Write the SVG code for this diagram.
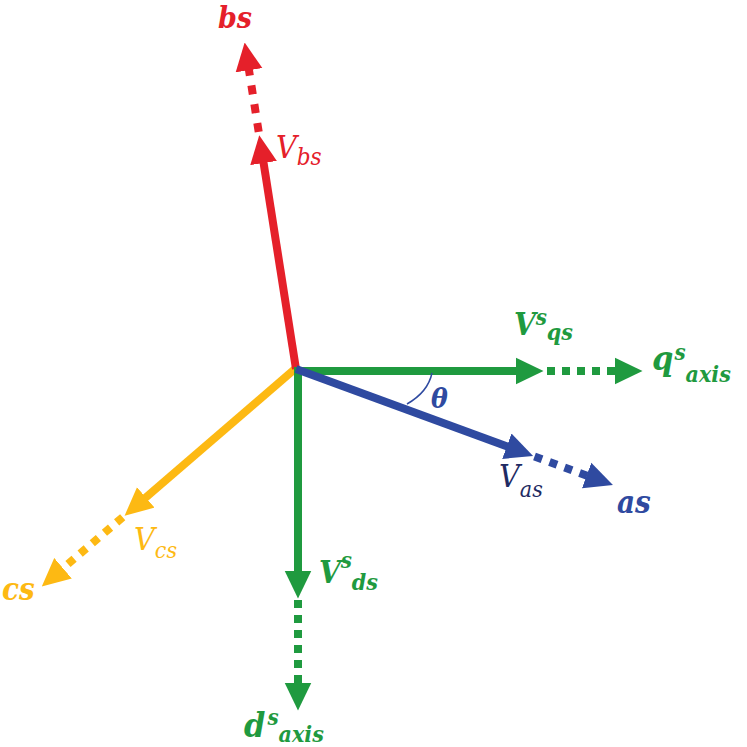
<svg xmlns="http://www.w3.org/2000/svg" width="747" height="747" viewBox="0 0 747 747">
<style>
.ln{stroke-width:8;fill:none;stroke-linecap:butt}
.red{stroke:#e5202a}.grn{stroke:#1f9a3f}.blu{stroke:#2f4aa0}.org{stroke:#fdb913}
.t{font-family:"DejaVu Serif Condensed","DejaVu Serif",serif;font-style:italic}
.b{font-weight:bold}
.fr{fill:#e5202a}.fg{fill:#1f9a3f}.fb{fill:#2f4aa0}.fo{fill:#fdb913}.fn{fill:#1f2b63}
</style>
<defs>
<marker id="hr" markerUnits="userSpaceOnUse" markerWidth="28" markerHeight="28" viewBox="0 0 27 26" refX="13" refY="13" orient="auto"><path d="M0,0 L27,13 L0,26 z" fill="#e5202a"/></marker>
<marker id="hg" markerUnits="userSpaceOnUse" markerWidth="28" markerHeight="28" viewBox="0 0 27 26" refX="13" refY="13" orient="auto"><path d="M0,0 L27,13 L0,26 z" fill="#1f9a3f"/></marker>
<marker id="hb" markerUnits="userSpaceOnUse" markerWidth="28" markerHeight="28" viewBox="0 0 27 26" refX="13" refY="13" orient="auto"><path d="M0,0 L27,13 L0,26 z" fill="#2f4aa0"/></marker>
<marker id="ho" markerUnits="userSpaceOnUse" markerWidth="28" markerHeight="28" viewBox="0 0 27 26" refX="13" refY="13" orient="auto"><path d="M0,0 L27,13 L0,26 z" fill="#fdb913"/></marker>
</defs>
<rect width="747" height="747" fill="#ffffff"/>
<g id="connectors">
<line class="ln org" x1="296" y1="368" x2="135.6" y2="506.2" marker-end="url(#ho)"/>
<line class="ln org" x1="122.7" y1="517.2" x2="52.8" y2="577" stroke-dasharray="8 8" marker-end="url(#ho)"/>
<line class="ln red" x1="296" y1="369" x2="261.5" y2="149.7" marker-end="url(#hr)"/>
<line class="ln red" x1="258.7" y1="131.9" x2="246.9" y2="56.9" stroke-dasharray="9 10" marker-end="url(#hr)"/>
<line class="ln grn" x1="294" y1="371" x2="529" y2="371" marker-end="url(#hg)"/>
<line class="ln grn" x1="547" y1="371" x2="628" y2="371" stroke-dasharray="8 7" marker-end="url(#hg)"/>
<line class="ln grn" x1="298" y1="367" x2="298" y2="584" marker-end="url(#hg)"/>
<line class="ln grn" x1="298" y1="600" x2="298" y2="696" stroke-dasharray="8 7" marker-end="url(#hg)"/>
<line class="ln blu" x1="296" y1="369" x2="519.5" y2="450.9" marker-end="url(#hb)"/>
<line class="ln blu" x1="534.5" y1="456.4" x2="599.3" y2="480.1" stroke-dasharray="8 8" marker-end="url(#hb)"/>
<path d="M432,373 Q428,392 407,404" fill="none" stroke="#2f4aa0" stroke-width="1.5"/>
</g>
<g id="bs"><text class="t b fr" x="218" y="28" font-size="30">bs</text></g>
<g id="Vbs"><text class="t fr" x="276" y="158" font-size="32">V<tspan font-size="24" dy="7">bs</tspan></text></g>
<g id="Vqs"><text class="t b fg" x="514" y="335" font-size="31">V<tspan font-size="22" dy="-10">s</tspan><tspan font-size="23" dy="15">qs</tspan></text></g>
<g id="qaxis"><text class="t b fg" x="652" y="370" font-size="34">q<tspan font-size="22" dx="1" dy="-10">s</tspan><tspan font-size="23" dy="22">axis</tspan></text></g>
<g id="theta"><text class="t b fb" x="431" y="408" font-size="28">θ</text></g>
<g id="Vas"><text class="t fn" x="499" y="487" font-size="32">V<tspan font-size="23" dy="10">as</tspan></text></g>
<g id="as"><text class="t b fb" x="617" y="513" font-size="31">as</text></g>
<g id="Vcs"><text class="t fo" x="134" y="550" font-size="32">V<tspan font-size="23" dy="8">cs</tspan></text></g>
<g id="cs"><text class="t b fo" x="2" y="600" font-size="31">cs</text></g>
<g id="Vds"><text class="t b fg" x="319" y="583" font-size="31">V<tspan font-size="22" dy="-15">s</tspan><tspan font-size="23" dy="22">ds</tspan></text></g>
<g id="daxis"><text class="t b fg" x="244" y="737" font-size="34">d<tspan font-size="22" dx="2" dy="-12">s</tspan><tspan font-size="23" dy="17">axis</tspan></text></g>
</svg>
